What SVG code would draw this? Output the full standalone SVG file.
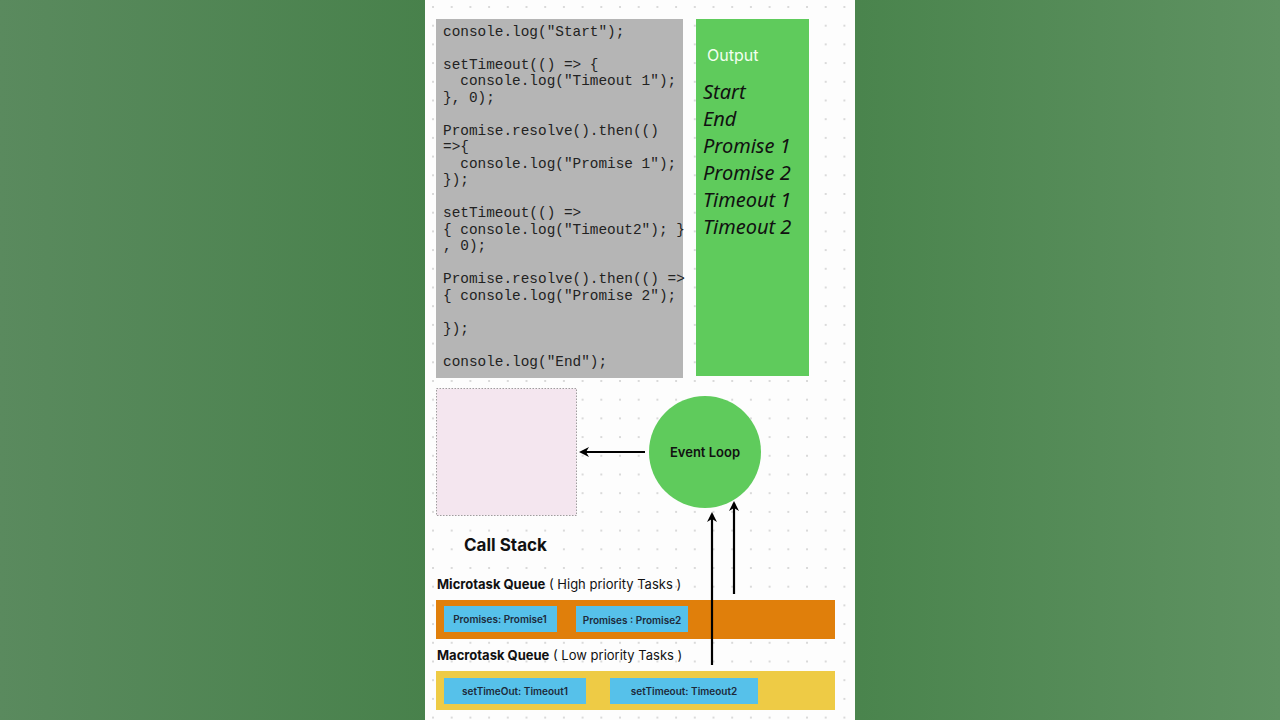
<svg xmlns="http://www.w3.org/2000/svg" width="1280" height="720" viewBox="0 0 1280 720">
<defs>
<linearGradient id="bg" x1="0" x2="1" y1="0" y2="0">
<stop offset="0" stop-color="#5a8a5e"/><stop offset="0.5" stop-color="#3f7d42"/><stop offset="1" stop-color="#5f9262"/>
</linearGradient>
<pattern id="dots" width="18.7" height="18.7" patternUnits="userSpaceOnUse" x="432" y="6">
<circle cx="1" cy="1" r="0.9" fill="#c9c9c9"/>
</pattern>
<marker id="ah" markerWidth="10" markerHeight="10" refX="8" refY="5" orient="auto" markerUnits="userSpaceOnUse">
<path d="M0,0 L10,5 L0,10 L3,5 z" fill="#000"/>
</marker>
<style>
.code{font-family:"Liberation Mono","DejaVu Sans Mono",monospace;font-size:14.4px;fill:#222;white-space:pre}
.out{font-family:"Noto Sans","Open Sans",sans-serif;font-style:italic;font-size:20px;fill:#111}
.lbl{font-family:Inter,"Liberation Sans",sans-serif;fill:#111}
.chip{font-family:Inter,"Liberation Sans",sans-serif;font-size:10px;font-weight:600;fill:#1d2a3a}
.conn{stroke:#000;stroke-width:2.2;fill:none;marker-end:url(#ah)}
</style>
</defs>
<rect width="1280" height="720" fill="url(#bg)"/>
<rect x="425" y="0" width="430" height="720" fill="#fdfdfd"/>
<rect x="425" y="0" width="430" height="720" fill="url(#dots)"/>
<g id="code">
<rect x="436" y="19" width="247" height="359" fill="#b5b5b5"/>
<text class="code" x="443" y="36">console.log("Start");</text>
<text class="code" x="443" y="69">setTimeout(() =&gt; {</text>
<text class="code" x="443" y="85">  console.log("Timeout 1");</text>
<text class="code" x="443" y="102">}, 0);</text>
<text class="code" x="443" y="135">Promise.resolve().then(()</text>
<text class="code" x="443" y="151">=&gt;{</text>
<text class="code" x="443" y="168">  console.log("Promise 1");</text>
<text class="code" x="443" y="184">});</text>
<text class="code" x="443" y="217">setTimeout(() =&gt;</text>
<text class="code" x="443" y="234">{ console.log("Timeout2"); }</text>
<text class="code" x="443" y="250">, 0);</text>
<text class="code" x="443" y="283">Promise.resolve().then(() =&gt;</text>
<text class="code" x="443" y="300">{ console.log("Promise 2");</text>
<text class="code" x="443" y="333">});</text>
<text class="code" x="443" y="366">console.log("End");</text>
</g>
<g id="output">
<rect x="696" y="19" width="113" height="357" fill="#5fcb5c"/>
<text x="707" y="61" font-family="Inter,'Liberation Sans',sans-serif" font-size="16" fill="#f2fff0">Output</text>
<text class="out" x="703" y="99">Start</text>
<text class="out" x="703" y="126">End</text>
<text class="out" x="703" y="153">Promise 1</text>
<text class="out" x="703" y="180">Promise 2</text>
<text class="out" x="703" y="207">Timeout 1</text>
<text class="out" x="703" y="234">Timeout 2</text>
</g>
<g id="callstack">
<rect x="436.5" y="388.5" width="140" height="127" fill="#f4e6ef" stroke="#888" stroke-width="0.8" stroke-dasharray="1.5,1.5"/>
<text class="lbl" x="464" y="551" font-size="17" font-weight="700">Call Stack</text>
</g>
<g id="eventloop">
<circle cx="705" cy="452" r="56" fill="#5fcb5c"/>
<text class="lbl" x="705" y="457" font-size="13" font-weight="600" text-anchor="middle">Event Loop</text>
</g>
<g id="microtask">
<text class="lbl" x="437" y="589" font-size="13"><tspan font-weight="700">Microtask Queue</tspan> ( High priority Tasks )</text>
<rect x="436" y="600" width="399" height="39" fill="#e07f0b"/>
<rect x="444" y="606" width="113" height="26" fill="#56c1ea"/>
<text class="chip" x="500" y="623" text-anchor="middle">Promises: Promise1</text>
<rect x="576" y="606" width="112" height="26" fill="#56c1ea"/>
<text class="chip" x="632" y="624" text-anchor="middle">Promises : Promise2</text>
</g>
<g id="macrotask">
<text class="lbl" x="437" y="660" font-size="13"><tspan font-weight="700">Macrotask Queue</tspan> ( Low priority Tasks )</text>
<rect x="436" y="671" width="399" height="39" fill="#eecb45"/>
<rect x="444" y="678" width="142" height="26" fill="#56c1ea"/>
<text class="chip" x="515" y="695" text-anchor="middle">setTimeOut: Timeout1</text>
<rect x="610" y="678" width="148" height="26" fill="#56c1ea"/>
<text class="chip" x="684" y="695" text-anchor="middle">setTimeout: Timeout2</text>
</g>
<g id="connectors">
<line class="conn" x1="645" y1="452" x2="581" y2="452"/>
<line class="conn" x1="712" y1="665" x2="712" y2="514"/>
<line class="conn" x1="734" y1="594" x2="734" y2="503"/>
</g>
</svg>
